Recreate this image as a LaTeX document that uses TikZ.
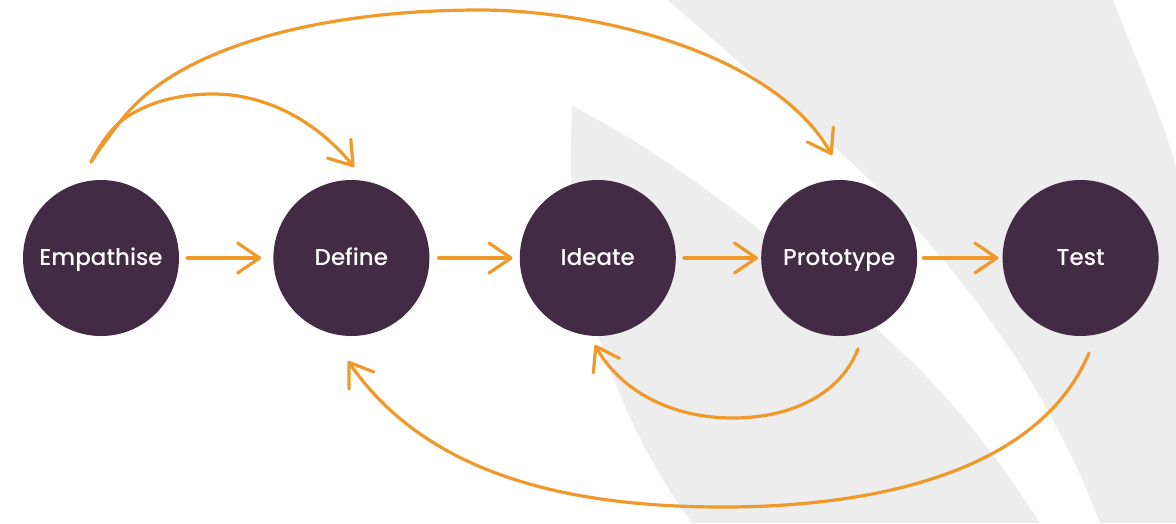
\documentclass[tikz,border=0pt]{standalone}
\usepackage{fontspec}
\setmainfont{Poppins Medium}
\usetikzlibrary{arrows.meta,positioning}

\definecolor{stagefill}{HTML}{432A45}
\definecolor{flowline}{HTML}{F0992B}
\definecolor{swoosh}{HTML}{EDEDED}

\tikzset{
    stage/.style={circle, fill=stagefill, text=white, minimum size=156pt, inner sep=0pt, text height=15pt, text depth=0pt, font=\fontsize{23}{27}\selectfont},
    flow/.style={draw=flowline, line width=3.2pt, line cap=round, line join=round, -{Straight Barb[length=22pt, width=30pt, round]}},
}

\begin{document}
\begin{tikzpicture}[x=1pt, y=-1pt]
    \useasboundingbox (0,0) rectangle (1176,523);

    % Sagome grigie sullo sfondo
    \fill[swoosh] (668,0) .. controls (770,90) and (860,165) .. (915,227)
        .. controls (975,295) and (1050,390) .. (1100,523)
        -- (1176,523) -- (1176,167) .. controls (1160,110) and (1140,70) .. (1113,0) -- cycle;
    \fill[swoosh] (572,106) .. controls (660,150) and (770,232) .. (881,333)
        .. controls (940,385) and (990,445) .. (1040,523)
        -- (692,523) .. controls (645,460) and (605,375) .. (580,270)
        .. controls (570,225) and (570,180) .. (572,106) -- cycle;

    % Le cinque fasi
    \node[stage] (emp) at (101,258) {Empathise};
    \node[stage, right=94pt of emp] (def) {Define};
    \node[stage, right=91pt of def, xshift=-1pt] (ide) {Ideate};
    \node[stage, right=85pt of ide] (pro) {Prototype};
    \node[stage, right=85pt of pro] (tes) {Test};

    % Frecce dritte tra le fasi
    \draw[flow] ([xshift=8pt]emp.east) -- ([xshift=-12pt]def.west);
    \draw[flow] ([xshift=9pt]def.east) -- ([xshift=-7pt]ide.west);
    \draw[flow] ([xshift=8pt]ide.east) -- ([xshift=-3pt]pro.west);
    \draw[flow] ([xshift=6pt]pro.east) -- ([xshift=-4pt]tes.west);

    % Estremi delle frecce curve
    \coordinate (empTop) at (91,162);
    \coordinate (defTop) at (354,167);
    \coordinate (proTop) at (832,155);
    \coordinate (proBot) at (858,349);
    \coordinate (ideBot) at (595,345);
    \coordinate (tesBot) at (1089,353);
    \coordinate (defBot) at (348,361);

    % Frecce curve sopra
    \draw[flow] (empTop) .. controls (100,148) and (110,135) .. (120,122)
        .. controls (175,48) and (318,10) .. (480,10)
        .. controls (590,10) and (772,50) .. (proTop);
    \draw[flow] (empTop) .. controls (100,145) and (108,133) .. (120,122)
        .. controls (145,102) and (180,94) .. (213,94)
        .. controls (270,94) and (320,125) .. (defTop);

    % Frecce curve sotto
    \draw[flow] (proBot) .. controls (840,395) and (790,418) .. (733,418)
        .. controls (670,418) and (620,390) .. (ideBot);
    \draw[flow] (tesBot) .. controls (1040,470) and (880,507) .. (723,507)
        .. controls (580,507) and (430,480) .. (defBot);
\end{tikzpicture}
\end{document}
